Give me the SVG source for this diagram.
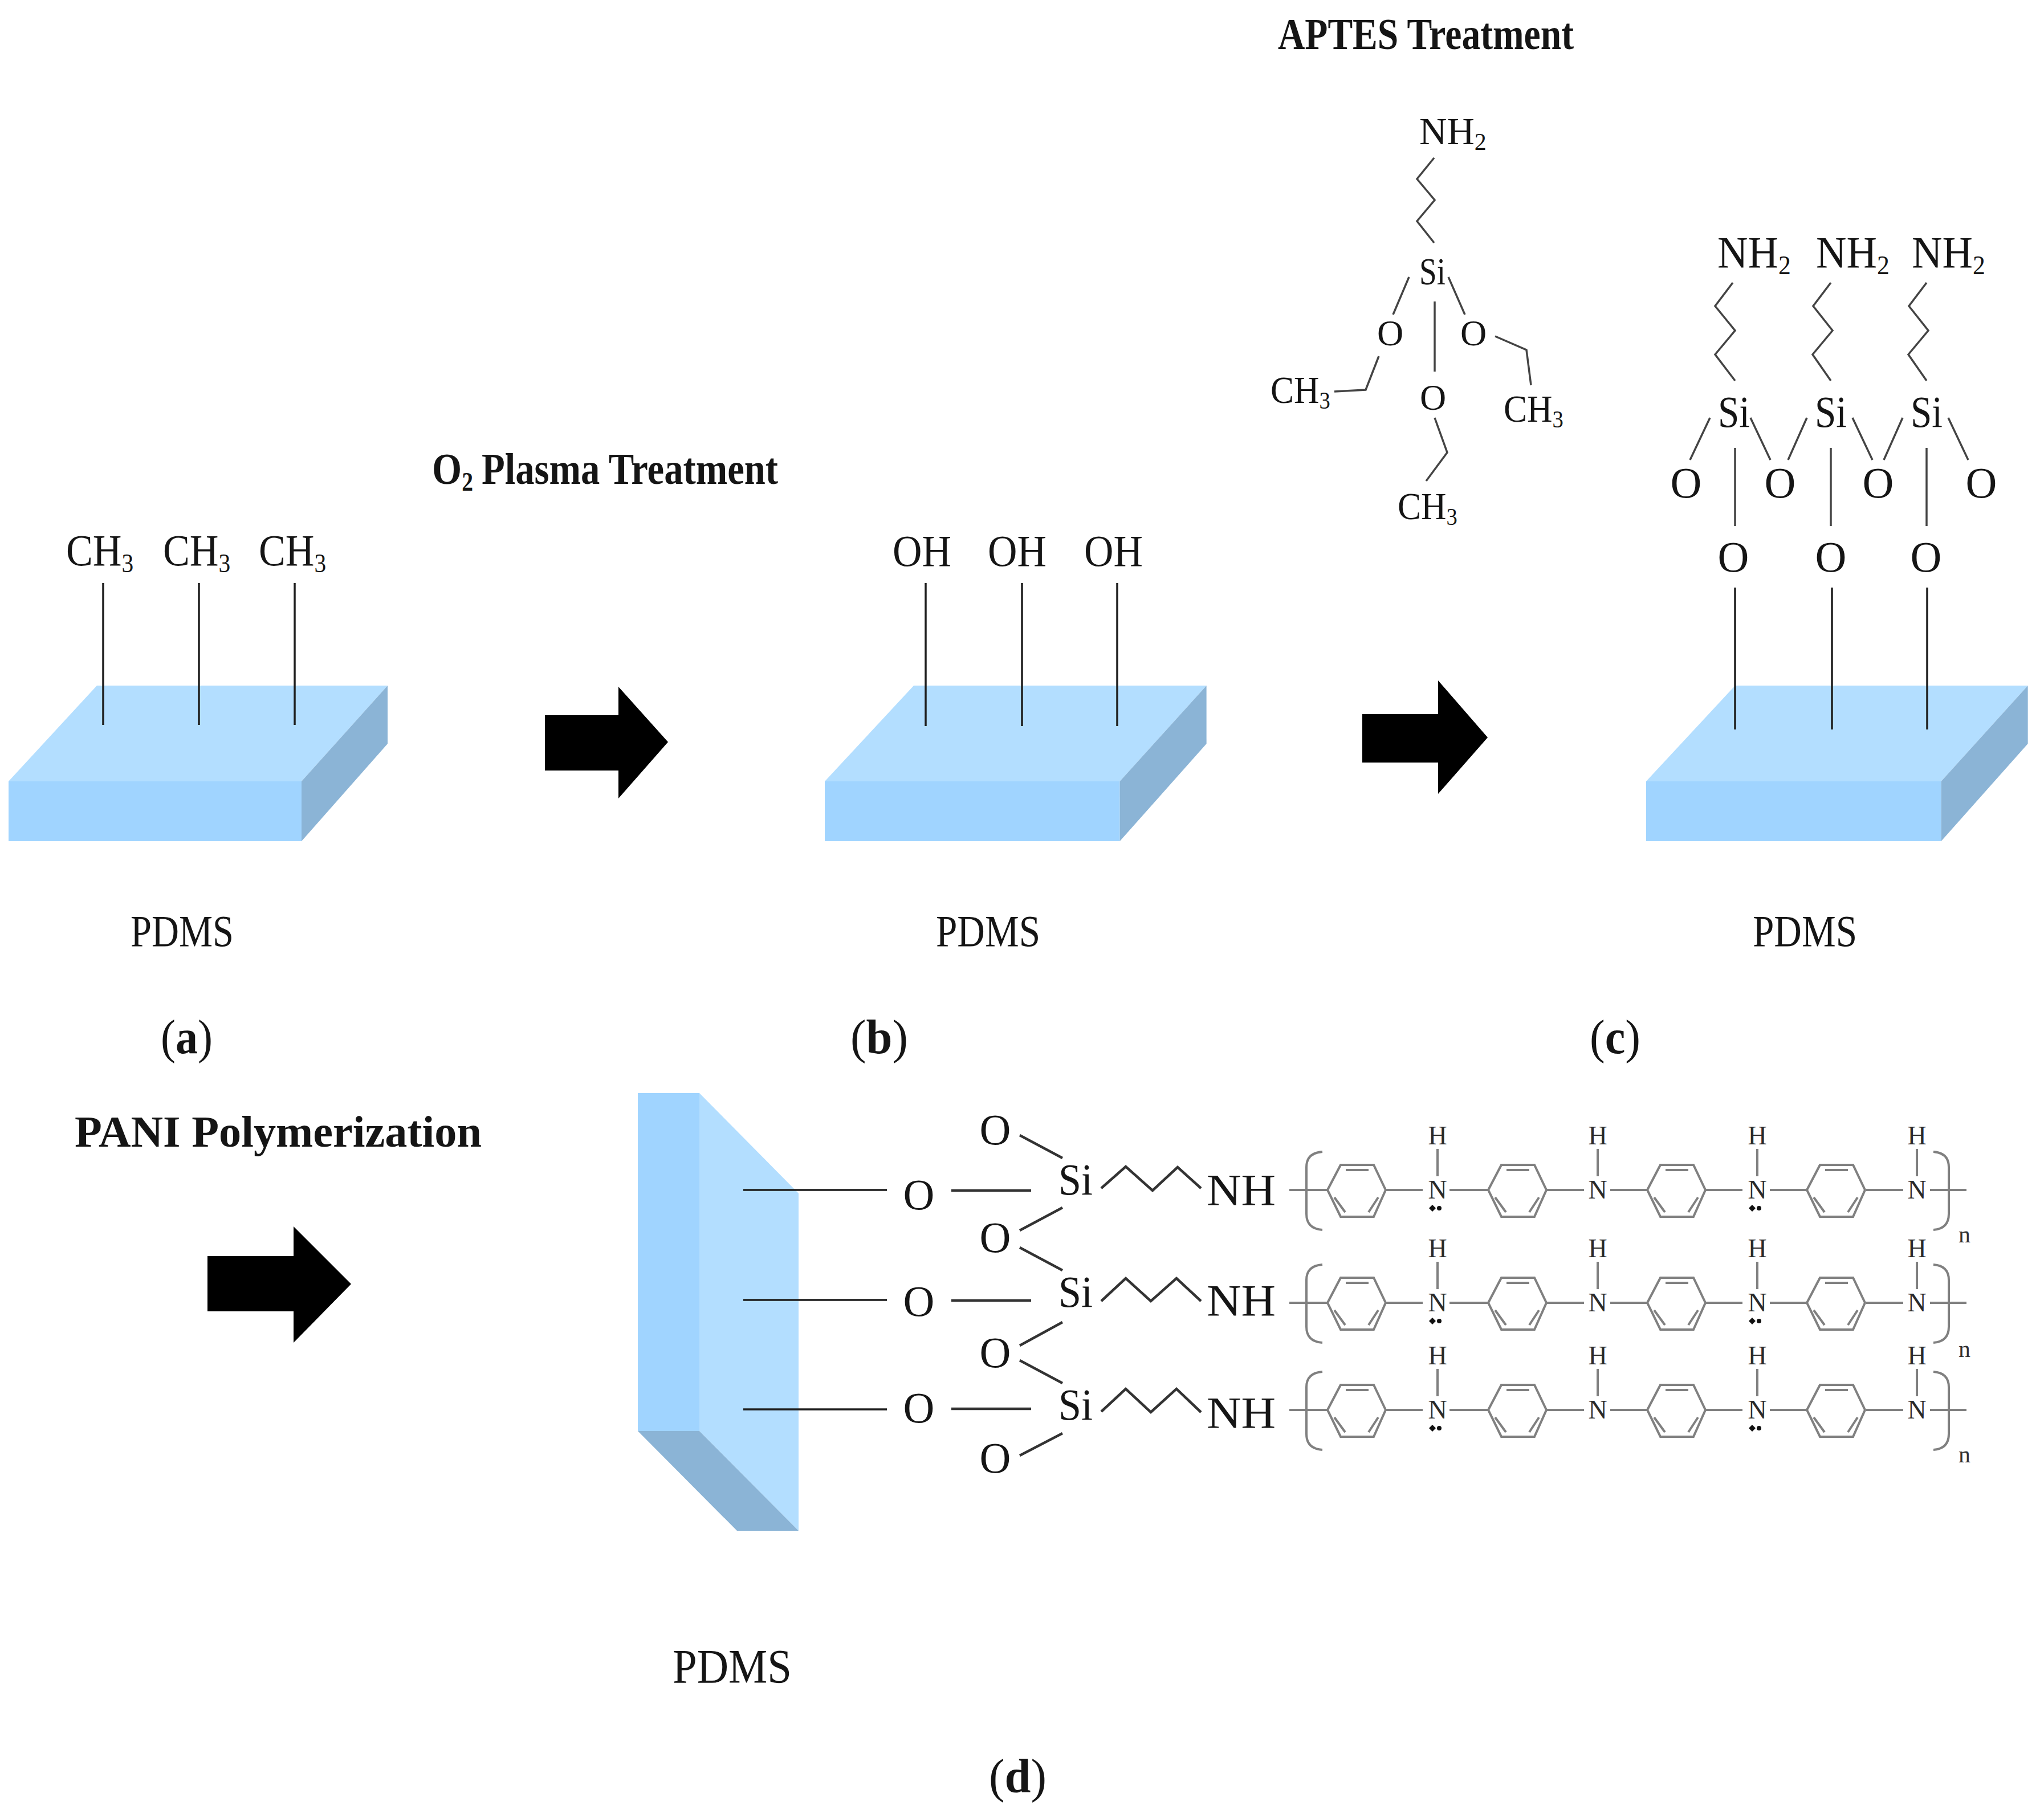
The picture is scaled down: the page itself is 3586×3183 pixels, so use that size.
<svg xmlns="http://www.w3.org/2000/svg" xmlns:xlink="http://www.w3.org/1999/xlink" width="3586" height="3183" viewBox="0 0 3586 3183">
<style>
text{font-family:"Liberation Serif","Times New Roman",serif;fill:#151515}
.b{font-weight:bold}
.m{text-anchor:middle}
.l{font-size:78px}
.o{font-size:76px;text-anchor:middle}
.s{font-size:67px}
.so{font-size:64px;text-anchor:middle}
.p{font-size:46px;fill:#2a2a2a}
.n{font-size:42px;fill:#333}
.top{fill:#b3deff}.front{fill:#a0d4ff}.side{fill:#8bb4d6}
.bond{fill:none;stroke:#1f1f1f;stroke-width:3.5;stroke-linejoin:miter}
.thin{fill:none;stroke:#444;stroke-width:3.5}
.heavy{fill:none;stroke:#333;stroke-width:4.5}
.grey{fill:none;stroke:#808080;stroke-width:4}
.arrow{fill:#000}
</style>
<defs>
<g id="ring" class="grey"><path d="M-51 0L-28-44H30L51 0L30 47H-28Z"/><path d="M-19-35H21M-39 13L-20 39M38 13L21 39"/></g>
<g id="dots"><path d="M-6 0L0-6L6 0L0 6Z" fill="#111"/><circle cx="12" cy="0" r="4" fill="#111"/></g>
<g id="slab"><path class="top" d="M0 168L155 0H665L514 168Z"/><path class="front" d="M0 168H514V273H0Z"/><path class="side" d="M514 168L665 0V102L514 273Z"/></g>
</defs>

<g id="slab-a"><use href="#slab" x="15" y="1203"/></g>
<g id="slab-b"><use href="#slab" transform="translate(1447 1203) scale(1.007 1)"/></g>
<g id="slab-c"><use href="#slab" transform="translate(2888 1203) scale(1.007 1)"/></g>
<g id="slab-d">
<path class="top" d="M1227 1918L1401 2094V2686L1227 2511Z"/>
<path class="front" d="M1119 1918H1227V2511H1119Z"/>
<path class="side" d="M1119 2511H1227L1401 2686H1293Z"/>
</g>

<g id="connectors">
<g id="arrows" class="arrow">
<path d="M956 1255H1085V1205L1172 1302L1085 1401V1352H956Z"/>
<path d="M2390 1253H2523V1194L2610 1294L2523 1393V1338H2390Z"/>
<path d="M364 2204H515V2152L616 2253L515 2356V2301H364Z"/>
</g>
<g class="bond">
<path d="M181 1023V1272M349 1023V1272M517 1023V1272"/>
<path d="M1624 1023V1274M1793 1023V1274M1960 1023V1274"/>
<path d="M3044 1031V1280M3214 1031V1280M3381 1031V1280"/>
<path d="M1304 2088H1556M1304 2281H1556M1304 2473H1556"/>
</g>
<g class="thin">
<path d="M2516 277L2486 314L2517 351L2486 388L2516 426"/>
<path d="M2472 486L2444 552M2541 486L2570 552M2517 529V652"/>
<path d="M2419 625L2396 684L2341 687M2623 590L2678 614L2686 676M2517 733L2539 794L2502 844"/>
<path d="M3040 496L3009 537L3044 580L3009 622L3044 668M3212 496L3181 537L3215 580L3180 622L3212 668M3380 496L3349 537L3383 580L3348 622L3380 668"/>
<path d="M3000 733L2965 807M3071 733L3106 807M3170 733L3137 807M3250 733L3285 807M3338 733L3305 807M3418 733L3453 807"/>
<path d="M3044 786V923M3212 786V923M3380 786V923"/>
</g>
<g class="heavy">
<path d="M1669 2089H1809M1669 2282H1809M1669 2472H1809"/>
<path d="M1789 1992L1864 2032M1864 2119L1789 2159M1789 2189L1864 2229M1864 2320L1789 2361M1789 2387L1864 2427M1864 2515L1789 2554"/>
<path d="M1932 2085L1975 2047L2022 2089L2066 2048L2107 2085M1932 2283L1975 2243L2019 2283L2064 2243L2107 2283M1932 2477L1975 2437L2019 2478L2064 2437L2107 2478"/>
</g>
<g id="bonds-row-1" transform="translate(0 2088)" class="grey">
<path d="M2320-67Q2292-65 2292-40V42Q2292 68 2320 70M3392-67Q3419-65 3419-40V42Q3419 68 3392 70"/>
<path d="M2262 0H2329M2431 0H2496M2543 0H2610M2713 0H2779M2825 0H2891M2991 0H3057M3105 0H3169M3274 0H3339M3386 0H3450"/>
<path d="M2522-72V-24M2803-72V-24M3083-72V-24M3363-72V-24"/>
<use href="#ring" x="2380" y="0"/><use href="#ring" x="2662" y="0"/><use href="#ring" x="2941" y="0"/><use href="#ring" x="3221" y="0"/>
</g>
<g id="bonds-row-2" transform="translate(0 2286)" class="grey">
<path d="M2320-67Q2292-65 2292-40V42Q2292 68 2320 70M3392-67Q3419-65 3419-40V42Q3419 68 3392 70"/>
<path d="M2262 0H2329M2431 0H2496M2543 0H2610M2713 0H2779M2825 0H2891M2991 0H3057M3105 0H3169M3274 0H3339M3386 0H3450"/>
<path d="M2522-72V-24M2803-72V-24M3083-72V-24M3363-72V-24"/>
<use href="#ring" x="2380" y="0"/><use href="#ring" x="2662" y="0"/><use href="#ring" x="2941" y="0"/><use href="#ring" x="3221" y="0"/>
</g>
<g id="bonds-row-3" transform="translate(0 2474)" class="grey">
<path d="M2320-67Q2292-65 2292-40V42Q2292 68 2320 70M3392-67Q3419-65 3419-40V42Q3419 68 3392 70"/>
<path d="M2262 0H2329M2431 0H2496M2543 0H2610M2713 0H2779M2825 0H2891M2991 0H3057M3105 0H3169M3274 0H3339M3386 0H3450"/>
<path d="M2522-72V-24M2803-72V-24M3083-72V-24M3363-72V-24"/>
<use href="#ring" x="2380" y="0"/><use href="#ring" x="2662" y="0"/><use href="#ring" x="2941" y="0"/><use href="#ring" x="3221" y="0"/>
</g>
</g>

<g id="labels-a">
<text class="l" transform="translate(116 992) scale(.9 1)">CH<tspan font-size="46" dy="12">3</tspan></text>
<text class="l" transform="translate(286 992) scale(.9 1)">CH<tspan font-size="46" dy="12">3</tspan></text>
<text class="l" transform="translate(454 992) scale(.9 1)">CH<tspan font-size="46" dy="12">3</tspan></text>
<text class="l" x="229" y="1660" textLength="181" lengthAdjust="spacingAndGlyphs">PDMS</text>
<text x="282" y="1848" font-size="84" textLength="91" lengthAdjust="spacingAndGlyphs">(<tspan class="b">a</tspan>)</text>
</g>
<g id="label-o2">
<text class="b l" transform="translate(758 849) scale(.86 1)">O<tspan font-size="46" dy="12">2</tspan></text>
<text class="b l" x="845" y="849" textLength="520" lengthAdjust="spacingAndGlyphs">Plasma Treatment</text>
</g>
<g id="labels-b">
<text class="l" x="1566" y="993" textLength="103" lengthAdjust="spacingAndGlyphs">OH</text>
<text class="l" x="1733" y="993" textLength="103" lengthAdjust="spacingAndGlyphs">OH</text>
<text class="l" x="1902" y="993" textLength="103" lengthAdjust="spacingAndGlyphs">OH</text>
<text class="l" x="1642" y="1660" textLength="183" lengthAdjust="spacingAndGlyphs">PDMS</text>
<text x="1492" y="1848" font-size="84" textLength="101" lengthAdjust="spacingAndGlyphs">(<tspan class="b">b</tspan>)</text>
</g>
<g id="label-aptes">
<text class="b l" x="2242" y="86" textLength="519" lengthAdjust="spacingAndGlyphs">APTES Treatment</text>
</g>
<g id="aptes-molecule">
<text class="s" x="2490" y="253">NH<tspan font-size="42" dy="10">2</tspan></text>
<text class="s" x="2490" y="499" textLength="46" lengthAdjust="spacingAndGlyphs">Si</text>
<text class="so" x="2439" y="606">O</text>
<text class="so" x="2585" y="606">O</text>
<text class="so" x="2514" y="719">O</text>
<text class="s" transform="translate(2229 707) scale(.92 1)">CH<tspan font-size="42" dy="10">3</tspan></text>
<text class="s" transform="translate(2638 740) scale(.92 1)">CH<tspan font-size="42" dy="10">3</tspan></text>
<text class="s" transform="translate(2452 911) scale(.92 1)">CH<tspan font-size="42" dy="10">3</tspan></text>
</g>
<g id="labels-c">
<text class="l" transform="translate(3013 469) scale(.95 1)">NH<tspan font-size="46" dy="12">2</tspan></text>
<text class="l" transform="translate(3186 469) scale(.95 1)">NH<tspan font-size="46" dy="12">2</tspan></text>
<text class="l" transform="translate(3354 469) scale(.95 1)">NH<tspan font-size="46" dy="12">2</tspan></text>
<text class="l" x="3014" y="749" textLength="56" lengthAdjust="spacingAndGlyphs">Si</text>
<text class="l" x="3184" y="749" textLength="56" lengthAdjust="spacingAndGlyphs">Si</text>
<text class="l" x="3352" y="749" textLength="56" lengthAdjust="spacingAndGlyphs">Si</text>
<text class="o" x="2958" y="873">O</text>
<text class="o" x="3123" y="873">O</text>
<text class="o" x="3295" y="873">O</text>
<text class="o" x="3476" y="873">O</text>
<text class="o" x="3041" y="1003">O</text>
<text class="o" x="3212" y="1003">O</text>
<text class="o" x="3379" y="1003">O</text>
<text class="l" x="3075" y="1660" textLength="183" lengthAdjust="spacingAndGlyphs">PDMS</text>
<text x="2789" y="1848" font-size="84" textLength="89" lengthAdjust="spacingAndGlyphs">(<tspan class="b">c</tspan>)</text>
</g>
<g id="label-pani">
<text class="b l" x="131" y="2012" textLength="714" lengthAdjust="spacingAndGlyphs">PANI Polymerization</text>
</g>
<g id="labels-d-siloxane">
<text class="o" x="1612" y="2122">O</text>
<text class="o" x="1612" y="2309">O</text>
<text class="o" x="1612" y="2496">O</text>
<text class="o" x="1746" y="2008">O</text>
<text class="o" x="1746" y="2197">O</text>
<text class="o" x="1746" y="2399">O</text>
<text class="o" x="1746" y="2584">O</text>
<text class="l" x="1857" y="2096" textLength="60" lengthAdjust="spacingAndGlyphs">Si</text>
<text class="l" x="1857" y="2293" textLength="60" lengthAdjust="spacingAndGlyphs">Si</text>
<text class="l" x="1857" y="2491" textLength="60" lengthAdjust="spacingAndGlyphs">Si</text>
<text class="l" x="2117" y="2114" textLength="121" lengthAdjust="spacingAndGlyphs">NH</text>
<text class="l" x="2117" y="2308" textLength="121" lengthAdjust="spacingAndGlyphs">NH</text>
<text class="l" x="2117" y="2505" textLength="121" lengthAdjust="spacingAndGlyphs">NH</text>
<text x="1180" y="2953" font-size="84" textLength="209" lengthAdjust="spacingAndGlyphs">PDMS</text>
<text x="1735" y="3145" font-size="84" textLength="101" lengthAdjust="spacingAndGlyphs">(<tspan class="b">d</tspan>)</text>
</g>
<g id="pani-row-1" transform="translate(0 2088)">
<text class="p m" x="2522" y="-80">H</text><text class="p m" x="2803" y="-80">H</text><text class="p m" x="3083" y="-80">H</text><text class="p m" x="3363" y="-80">H</text>
<text class="p m" x="2522" y="15">N</text><text class="p m" x="2803" y="15">N</text><text class="p m" x="3083" y="15">N</text><text class="p m" x="3363" y="15">N</text>
<use href="#dots" x="2513" y="32"/><use href="#dots" x="3074" y="32"/>
<text class="n" x="3436" y="92">n</text>
</g>
<g id="pani-row-2" transform="translate(0 2286)">
<text class="p m" x="2522" y="-80">H</text><text class="p m" x="2803" y="-80">H</text><text class="p m" x="3083" y="-80">H</text><text class="p m" x="3363" y="-80">H</text>
<text class="p m" x="2522" y="15">N</text><text class="p m" x="2803" y="15">N</text><text class="p m" x="3083" y="15">N</text><text class="p m" x="3363" y="15">N</text>
<use href="#dots" x="2513" y="32"/><use href="#dots" x="3074" y="32"/>
<text class="n" x="3436" y="95">n</text>
</g>
<g id="pani-row-3" transform="translate(0 2474)">
<text class="p m" x="2522" y="-80">H</text><text class="p m" x="2803" y="-80">H</text><text class="p m" x="3083" y="-80">H</text><text class="p m" x="3363" y="-80">H</text>
<text class="p m" x="2522" y="15">N</text><text class="p m" x="2803" y="15">N</text><text class="p m" x="3083" y="15">N</text><text class="p m" x="3363" y="15">N</text>
<use href="#dots" x="2513" y="32"/><use href="#dots" x="3074" y="32"/>
<text class="n" x="3436" y="92">n</text>
</g>
</svg>
